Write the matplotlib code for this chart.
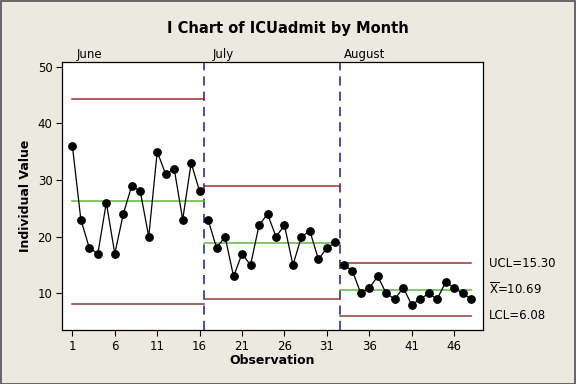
import matplotlib
matplotlib.use("Agg")
import matplotlib.pyplot as plt
import matplotlib.transforms as mtransforms
from matplotlib.patches import Rectangle
import numpy as np

# data
months = ["June", "July", "August"]
june = [36, 23, 18, 17, 26, 17, 24, 29, 28, 20, 35, 31, 32, 23, 33, 28]
july = [23, 18, 20, 13, 17, 15, 22, 24, 20, 22, 15, 20, 21, 16, 18, 19]
august = [15, 14, 10, 11, 13, 10, 9, 11, 8, 9, 10, 9, 12, 11, 10, 9]
ucl = [44.3, 28.9, 15.30]
mean = [26.25, 18.94, 10.69]
lcl = [8.2, 9.0, 6.08]
xticks = [1, 6, 11, 16, 21, 26, 31, 36, 41, 46]
yticks = [10, 20, 30, 40, 50]

plt.rcParams['font.family'] = ['DejaVu Sans']

bg = '#ECE9E0'
fig = plt.figure(figsize=(5.76, 3.84), dpi=100, facecolor=bg)
ax = fig.add_axes([0.108, 0.1406, 0.7305, 0.698])
ax.set_facecolor('white')

# stage boundaries
n = len(june)
starts = [1, n + 0.5, 2 * n + 0.5]
ends = [n + 0.5, 2 * n + 0.5, 3 * n]

for i in range(3):
    ax.plot([starts[i], ends[i]], [ucl[i], ucl[i]], color='#A0322C', lw=1.1, zorder=2)
    ax.plot([starts[i], ends[i]], [lcl[i], lcl[i]], color='#8E3F36', lw=1.1, zorder=2)
    ax.plot([starts[i], ends[i]], [mean[i], mean[i]], color='#5DB83A', lw=1.1, zorder=2)

for b in [n + 0.5, 2 * n + 0.5]:
    ax.axvline(b, color='#1F1F6E', lw=1.1, ls=(0, (6, 4)), zorder=1)

# line connects within stages only
for i, seg in enumerate([june, july, august]):
    x = np.arange(1, len(seg) + 1) + i * n
    ax.plot(x, seg, color='black', lw=0.9, marker='o', ms=5.3, zorder=3)

ax.set_xlim(-0.2, 49.4)
ax.set_ylim(3.55, 50.8)
ax.set_xticks(xticks)
ax.set_yticks(yticks)
ax.tick_params(direction='out', length=4, labelsize=8.5, color='black', pad=3)
for s in ax.spines.values():
    s.set_color('black')
    s.set_linewidth(0.9)

ax.set_xlabel('Observation', fontsize=9, fontweight='bold', labelpad=1)
ax.set_ylabel('Individual Value', fontsize=9, fontweight='bold', labelpad=4)
fig.text(0.5, 0.927, 'I Chart of ICUadmit by Month', ha='center', va='center',
         fontsize=10.5, fontweight='bold')

# month labels above the axes
trans = mtransforms.blended_transform_factory(ax.transData, ax.transAxes)
ax.text(1.5, 1.005, months[0], transform=trans, fontsize=8.5, va='bottom', ha='left')
ax.text(n + 1.5, 1.005, months[1], transform=trans, fontsize=8.5, va='bottom', ha='left')
ax.text(2 * n + 1.0, 1.005, months[2], transform=trans, fontsize=8.5, va='bottom', ha='left')

# limit labels on the right
trans2 = mtransforms.blended_transform_factory(ax.transAxes, ax.transData)
ax.text(1.015, ucl[2], 'UCL=%.2f' % ucl[2], transform=trans2, fontsize=8.5, va='center', clip_on=False)
ax.text(1.015, mean[2], '$\\overline{\\mathrm{X}}$=%.2f' % mean[2], transform=trans2,
        fontsize=8.5, va='center', clip_on=False)
ax.text(1.015, lcl[2], 'LCL=%.2f' % lcl[2], transform=trans2, fontsize=8.5, va='center', clip_on=False)

fig.patches.append(Rectangle((0.001, 0.001), 0.997, 0.997, transform=fig.transFigure,
                             fill=False, edgecolor='#505050', lw=1.2))

fig.savefig('out.png', dpi=100, facecolor=bg)
